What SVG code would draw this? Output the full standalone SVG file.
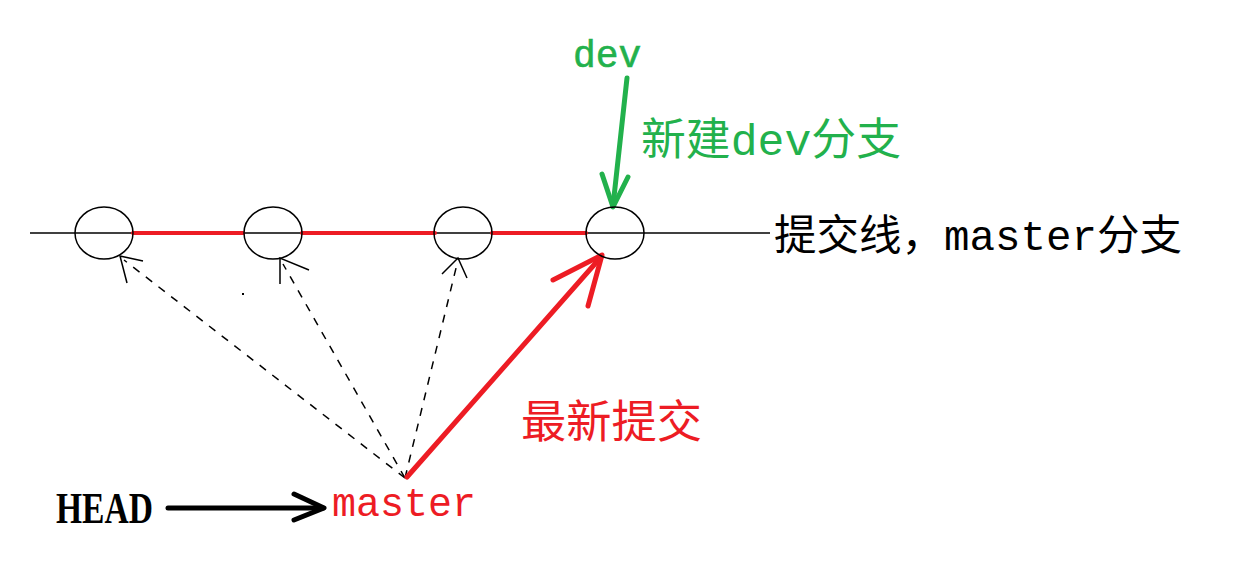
<svg xmlns="http://www.w3.org/2000/svg" width="1245" height="563" viewBox="0 0 1245 563">
<style>
.cjk{font-family:"Liberation Mono","Noto Sans CJK SC",monospace;}
.commit{fill:none;stroke:#000;stroke-width:1.5;}
.thin{stroke:#000;stroke-width:1.5;fill:none;}
.dash{stroke:#000;stroke-width:1.5;fill:none;stroke-dasharray:8 8;}
.red{stroke:#ed1c24;fill:none;stroke-linecap:round;stroke-linejoin:round;}
.green{stroke:#22b14c;fill:none;stroke-width:5;stroke-linecap:round;stroke-linejoin:round;}
.blk{stroke:#000;fill:none;stroke-width:5;stroke-linecap:round;stroke-linejoin:round;}
</style>
<rect width="1245" height="563" fill="#fff"/>
<g id="connectors">
  <line class="thin" x1="30" y1="233" x2="770" y2="233"/>
  <line class="red" stroke-width="4" x1="133" y1="233" x2="243" y2="233"/>
  <line class="red" stroke-width="4" x1="302" y1="233" x2="435" y2="233"/>
  <line class="red" stroke-width="4" x1="492" y1="233" x2="586" y2="233"/>
  <line class="dash" x1="405" y1="478" x2="124" y2="260"/>
  <polyline class="thin" points="143,261 120,256 127,283"/>
  <line class="dash" x1="405" y1="478" x2="283" y2="264"/>
  <polyline class="thin" points="309,270 280,258 280,284"/>
  <line class="dash" x1="405" y1="478" x2="457" y2="264"/>
  <polyline class="thin" points="442,274 458,258 467,278"/>
  <line class="red" stroke-width="5" x1="407" y1="477" x2="601" y2="257"/>
  <polyline class="red" stroke-width="5" points="553,280 602,255 588,306"/>
  <line class="green" x1="627" y1="78" x2="613" y2="206"/>
  <polyline class="green" points="602,174 613,207 628,177"/>
  <line class="blk" x1="168" y1="508" x2="323" y2="508"/>
  <polyline class="blk" points="294,494 324,508 294,520"/>
  <rect x="242" y="293" width="2" height="2" fill="#000"/>
</g>
<g id="commit1"><ellipse class="commit" cx="104" cy="233" rx="29" ry="26"/></g>
<g id="commit2"><ellipse class="commit" cx="273" cy="233" rx="29" ry="26"/></g>
<g id="commit3"><ellipse class="commit" cx="463" cy="233" rx="29" ry="26"/></g>
<g id="commit4"><ellipse class="commit" cx="615" cy="233" rx="29" ry="26"/></g>
<g id="dev"><text class="cjk" x="573" y="67" font-size="38" fill="#22b14c" stroke="#22b14c" stroke-width="0.6">dev</text></g>
<g id="new-dev-label"><text class="cjk" x="641" y="155" font-size="44" textLength="260" lengthAdjust="spacingAndGlyphs" fill="#22b14c">新建dev分支</text></g>
<g id="master-line-label"><text class="cjk" x="774" y="250" font-size="42" textLength="408" lengthAdjust="spacingAndGlyphs" fill="#000">提交线，master分支</text></g>
<g id="latest-label"><text class="cjk" x="521" y="438" font-size="45" textLength="181" lengthAdjust="spacingAndGlyphs" fill="#ed1c24">最新提交</text></g>
<g id="head"><text x="56" y="523" font-family="Liberation Serif, serif" font-weight="bold" font-size="44" textLength="97" lengthAdjust="spacingAndGlyphs" fill="#000">HEAD</text></g>
<g id="master"><text class="cjk" x="332" y="516" font-size="40" fill="#ed1c24">master</text></g>
</svg>
